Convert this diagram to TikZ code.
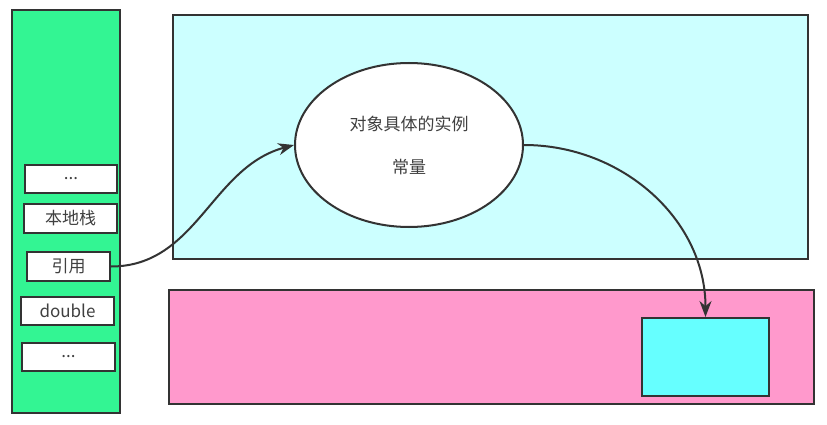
\documentclass[tikz,border=0pt]{standalone}
\usepackage{fontspec}
\setmainfont{Noto Sans CJK SC}
\usepackage{tikz}
\usetikzlibrary{arrows.meta,positioning,shapes.geometric}
\definecolor{stackGreen}{HTML}{33F593}
\definecolor{heapCyan}{HTML}{CCFFFF}
\definecolor{constPink}{HTML}{FF99CC}
\definecolor{poolCyan}{HTML}{66FFFF}
\definecolor{lineGray}{HTML}{333333}
\definecolor{textGray}{HTML}{404040}

\begin{document}
\begin{tikzpicture}[x=1pt,y=-1pt]
	\tikzstyle{area} = [rectangle, draw=lineGray, line width=2pt, inner sep=0pt]
	\tikzstyle{slot} = [rectangle, minimum height=28pt, draw=lineGray, line width=2pt, 
	fill=white, text=textGray, font=\fontsize{17}{19}\selectfont, inner sep=0pt]
	\tikzstyle{arrow} = [line width=2pt, draw=lineGray, -{Stealth[length=16pt,width=12pt]}]
	\useasboundingbox (0,0) rectangle (827,425);
	\node (stack) [area, fill=stackGreen, minimum width=108pt, minimum height=403pt] at (66,211.5) {};
	\node (dotsTop) [slot, minimum width=92pt] at (71,179) {...};
	\node (localStack) [slot, minimum width=93pt, minimum height=29pt] at (70.5,218.5) {本地栈};
	\node (reference) [slot, minimum width=83pt, minimum height=29pt] at (68.5,266.5) {引用};
	\node (double) [slot, minimum width=93pt] at (67.5,311) {double};
	\node (dotsBottom) [slot, minimum width=93pt] at (68.5,357) {...};
	\node (heap) [area, fill=heapCyan, minimum width=635pt, minimum height=244pt] at (490.5,137) {};
	\node (method) [area, fill=constPink, minimum width=645pt, minimum height=114pt] at (491.5,347) {};
	\node (pool) [area, fill=poolCyan, minimum width=127pt, minimum height=78pt] at (705.5,357) {};
	\node (instance) [ellipse, draw=lineGray, line width=2pt, fill=white, inner sep=0pt, 
	minimum width=228pt, minimum height=164pt, align=center, text=textGray, 
	font=\fontsize{17}{21}\selectfont] at (409,145) {对象具体的实例\\[22pt]常量};
	\draw [arrow] (reference.east) to[out=0, in=195] (instance.west);
	\draw [arrow] (instance.east) to[out=0, in=90] (pool.north);
\end{tikzpicture}
\end{document}
